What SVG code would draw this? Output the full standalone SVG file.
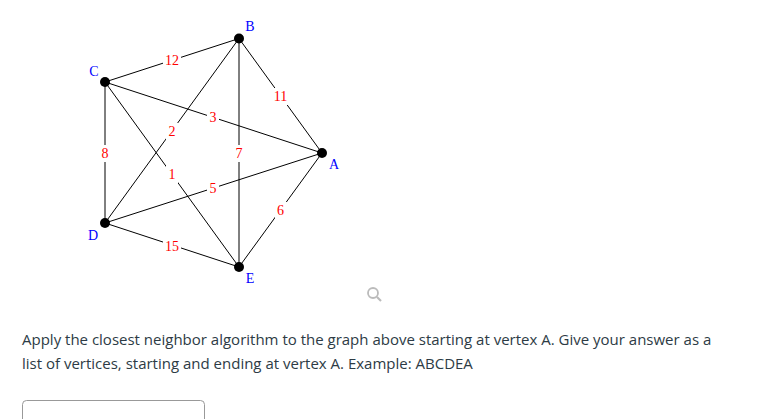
<svg xmlns="http://www.w3.org/2000/svg" width="758" height="419" viewBox="0 0 758 419">
<style>
.e{stroke:#000;stroke-width:1;fill:none}
.w{font:14px "Liberation Serif",serif;fill:#f00;text-anchor:middle}
.bg{fill:#fff}
.n{font:14px "Liberation Serif",serif;fill:#00f;text-anchor:middle}
.q{font:15px "Open Sans",sans-serif;fill:#2d3b45}
</style>
<rect width="758" height="419" fill="#fff"/>
<g id="connectors">
<line class="e" x1="105" y1="82" x2="239" y2="38.5"/>
<line class="e" x1="239" y1="38.5" x2="322" y2="153"/>
<line class="e" x1="239" y1="38.5" x2="105" y2="223"/>
<line class="e" x1="239" y1="38.5" x2="239" y2="267"/>
<line class="e" x1="105" y1="82" x2="322" y2="153"/>
<line class="e" x1="105" y1="82" x2="239" y2="267"/>
<line class="e" x1="105" y1="82" x2="105" y2="223"/>
<line class="e" x1="105" y1="223" x2="322" y2="153"/>
<line class="e" x1="105" y1="223" x2="239" y2="267"/>
<line class="e" x1="239" y1="267" x2="322" y2="153"/>
<rect class="bg" x="163" y="52" width="18" height="17"/><text class="w" x="172" y="65">12</text>
<rect class="bg" x="271" y="88" width="18" height="17"/><text class="w" x="280.500" y="101">11</text>
<rect class="bg" x="207" y="110" width="12" height="17"/><text class="w" x="213" y="122">3</text>
<rect class="bg" x="166" y="123" width="12" height="17"/><text class="w" x="172" y="136">2</text>
<rect class="bg" x="99" y="145" width="12" height="17"/><text class="w" x="105" y="158">8</text>
<rect class="bg" x="233" y="145" width="12" height="17"/><text class="w" x="239" y="158">7</text>
<rect class="bg" x="166" y="166" width="12" height="17"/><text class="w" x="172" y="179">1</text>
<rect class="bg" x="207" y="180" width="12" height="17"/><text class="w" x="213" y="193">5</text>
<rect class="bg" x="275" y="202" width="12" height="17"/><text class="w" x="280.500" y="215">6</text>
<rect class="bg" x="163" y="238" width="18" height="17"/><text class="w" x="172" y="251">15</text>
</g>
<g id="node-A"><circle cx="322" cy="153" r="5"/><text class="n" x="334" y="169">A</text></g>
<g id="node-B"><circle cx="239" cy="38.500" r="5"/><text class="n" x="250" y="31">B</text></g>
<g id="node-C"><circle cx="105" cy="82" r="5"/><text class="n" x="94" y="76">C</text></g>
<g id="node-D"><circle cx="105" cy="223" r="5"/><text class="n" x="93" y="240">D</text></g>
<g id="node-E"><circle cx="239" cy="267" r="5"/><text class="n" x="250" y="283">E</text></g>
<g id="zoom-icon" fill="none" stroke="#bbb"><circle cx="373" cy="293" r="5" stroke-width="1.800"/><line x1="377" y1="297" x2="381" y2="301" stroke-width="2.200"/></g>
<text class="q" x="22" y="345">Apply the closest neighbor algorithm to the graph above starting at vertex A. Give your answer as a</text>
<text class="q" x="22" y="369">list of vertices, starting and ending at vertex A. Example: ABCDEA</text>
<rect x="22.500" y="400.500" width="182" height="30" rx="4" fill="#fff" stroke="#999"/>
</svg>
